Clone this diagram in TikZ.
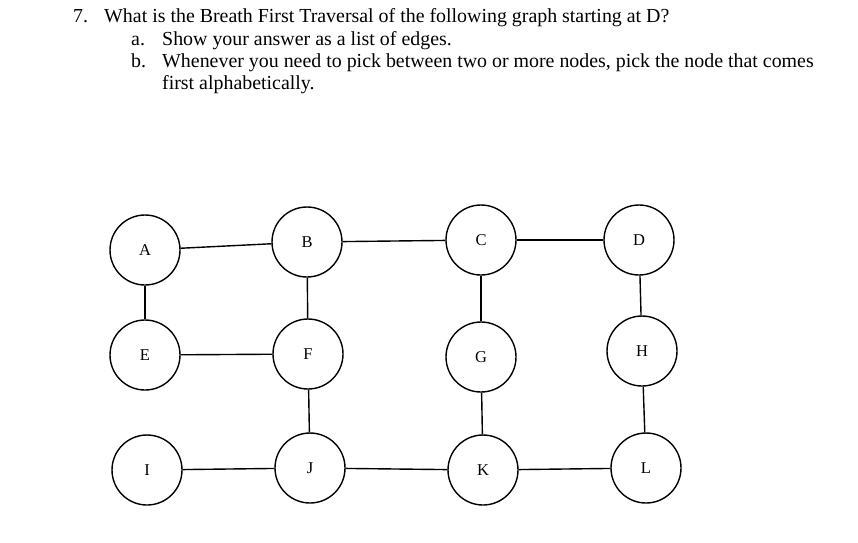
\documentclass[tikz,border=0pt]{standalone}
\usepackage{fontspec}
\setmainfont{Liberation Serif}
\begin{document}
\begin{tikzpicture}[x=1pt,y=-1pt,
  vtx/.style={circle,draw,line width=1.4pt,minimum size=70pt,inner sep=0pt,font=\fontsize{16.5}{18}\selectfont},
  edge/.style={line width=1.4pt},
  txt/.style={anchor=base west,inner sep=0pt,font=\fontsize{19.9}{22}\selectfont}]
\useasboundingbox (0,0) rectangle (858,542);
\node[txt] (n7) at (73,22) {7.};
\node[txt] (q1) at (104,22) {What is the Breath First Traversal of the following graph starting at D?};
\node[txt] (la) at (131,45) {a.};
\node[txt] (ta) at (162,45) {Show your answer as a list of edges.};
\node[txt] (lb) at (131,67) {b.};
\node[txt] (tb) at (162,67) {Whenever you need to pick between two or more nodes, pick the node that comes};
\node[txt] (tb2) at (162,89) {first alphabetically.};
\node[vtx] (A) at (145,250) {A};
\node[vtx] (B) at (307,242) {B};
\node[vtx] (C) at (481,240) {C};
\node[vtx] (D) at (639,240) {D};
\node[vtx] (E) at (145,355) {E};
\node[vtx] (F) at (308,354) {F};
\node[vtx] (G) at (481,357) {G};
\node[vtx] (H) at (642,351) {H};
\node[vtx] (I) at (147,470) {I};
\node[vtx] (J) at (310,468) {J};
\node[vtx] (K) at (483,470) {K};
\node[vtx] (L) at (646,468) {L};
\foreach \a/\b in {A/B,B/C,C/D,A/E,B/F,C/G,D/H,E/F,F/J,G/K,H/L,I/J,J/K,K/L}
  \draw[edge] (\a) -- (\b);
\end{tikzpicture}
\end{document}
